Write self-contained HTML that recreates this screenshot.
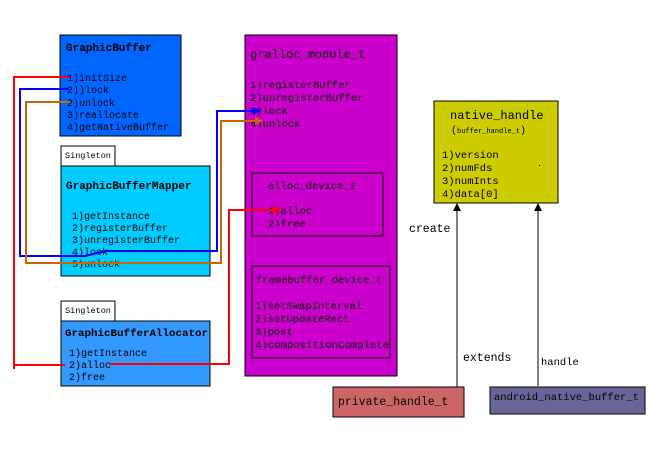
<!DOCTYPE html>
<html><head><meta charset="utf-8"><style>
body{margin:0;background:#fff;}
svg text{font-family:"Liberation Mono",monospace;fill:#000;}
</style></head><body>
<svg width="650" height="450" xmlns="http://www.w3.org/2000/svg">
<defs>
<marker id="ab" markerWidth="8" markerHeight="8" refX="7" refY="4" orient="auto" markerUnits="userSpaceOnUse"><path d="M0,0 L8,4 L0,8z" fill="#000"/></marker>
<marker id="ar" markerWidth="8" markerHeight="8" refX="7" refY="4" orient="auto" markerUnits="userSpaceOnUse"><path d="M0,0 L8,4 L0,8z" fill="#f00"/></marker>
<marker id="abl" markerWidth="8" markerHeight="8" refX="7" refY="4" orient="auto" markerUnits="userSpaceOnUse"><path d="M0,0 L8,4 L0,8z" fill="#00f"/></marker>
<marker id="ao" markerWidth="8" markerHeight="8" refX="7" refY="4" orient="auto" markerUnits="userSpaceOnUse"><path d="M0,0 L8,4 L0,8z" fill="#c60"/></marker>
</defs>
<rect x="60" y="35" width="121" height="101" fill="#0066ff" stroke="#000"/>
<text x="66" y="51" font-size="11" font-weight="bold">GraphicBuffer</text>
<g font-size="10"><text x="67" y="81">1)initSize</text><text x="67" y="93">2))lock</text><text x="67" y="106">2)unlock</text><text x="67" y="118">3)reallocate</text><text x="67" y="130">4)getNativeBuffer</text></g>
<rect x="61" y="146" width="54" height="20" fill="#fff" stroke="#000"/>
<text x="65" y="158" font-size="8.5">Singleton</text>
<rect x="61" y="166" width="149" height="110" fill="#00ccff" stroke="#000"/>
<text x="66" y="189" font-size="11" font-weight="bold">GraphicBufferMapper</text>
<g font-size="10"><text x="72" y="219">1)getInstance</text><text x="72" y="231">2)registerBuffer</text><text x="72" y="243">3)unregisterBuffer</text><text x="72" y="255">4)lock</text><text x="72" y="267">5)unlock</text></g>
<rect x="61" y="301" width="54" height="20" fill="#fff" stroke="#000"/>
<text x="65" y="313" font-size="8.5">Singleton</text>
<rect x="61" y="321" width="149" height="65" fill="#3399ff" stroke="#000"/>
<text x="65" y="336" font-size="10.5" font-weight="bold" textLength="143" lengthAdjust="spacingAndGlyphs">GraphicBufferAllocator</text>
<g font-size="10"><text x="69" y="356">1)getInstance</text><text x="69" y="368">2)alloc</text><text x="69" y="380">2)free</text></g>
<rect x="245" y="35" width="152" height="341" fill="#cc00cc" stroke="#000"/>
<text x="250" y="58" font-size="12">gralloc_module_t</text>
<g font-size="10.5"><text x="250" y="88">1)registerBuffer</text><text x="250" y="101">2)unregisterBuffer</text><text x="250" y="114">3)lock</text><text x="250" y="127">4)unlock</text></g>
<rect x="252" y="173" width="131" height="63" fill="#cc00cc" stroke="#000"/>
<text x="268" y="189" font-size="10.5">alloc_device_t</text>
<g font-size="10.5"><text x="268" y="214">1)alloc</text><text x="268" y="227">2)free</text></g>
<rect x="252" y="266" width="138" height="92" fill="#cc00cc" stroke="#000"/>
<text x="256" y="283" font-size="10.5">framebuffer_device_t</text>
<g font-size="10.5"><text x="255" y="309">1)setSwapInterval</text><text x="255" y="322">2)setUpdateRect</text><text x="255" y="335">3)post</text><text x="255" y="348" textLength="134" lengthAdjust="spacingAndGlyphs">4)compositionComplete</text></g>
<rect x="434" y="101" width="124" height="102" fill="#cccc00" stroke="#000"/>
<text x="450" y="119" font-size="12">native_handle</text>
<text x="451" y="133" font-size="10">(<tspan font-size="7">buffer_handle_t</tspan>)</text>
<g font-size="10.5"><text x="442" y="158">1)version</text><text x="442" y="171">2)numFds</text><text x="442" y="184">3)numInts</text><text x="442" y="197">4)data[0]</text></g>
<rect x="539" y="165" width="1" height="1" fill="#000"/>
<rect x="333" y="387" width="131" height="30" fill="#cc6666" stroke="#000"/>
<text x="338" y="405" font-size="11.5">private_handle_t</text>
<rect x="490" y="387" width="155" height="27" fill="#666699" stroke="#000"/>
<text x="494" y="400" font-size="10.5">android_native_buffer_t</text>
<line x1="457" y1="387" x2="457" y2="204" stroke="#000" marker-end="url(#ab)"/>
<line x1="538" y1="386" x2="538" y2="204" stroke="#000" marker-end="url(#ab)"/>
<text x="409" y="232" font-size="11.5">create</text>
<text x="463" y="361" font-size="11.5">extends</text>
<text x="541" y="365" font-size="10.5">handle</text>
<g fill="none" stroke-width="2">
<polyline points="69,77 14,77 14,369" stroke="#f00"/>
<polyline points="14,365 65,365" stroke="#f00"/>
<polyline points="110,364 229,364 229,210 280,210" stroke="#f00" marker-end="url(#ar)"/>
<polyline points="69,89 20,89 20,256 85,256 105,251 217,251 217,111 260,111" stroke="#00f" marker-end="url(#abl)"/>
<polyline points="70,102 26,102 26,263 221,263 221,121 262,121" stroke="#c60" marker-end="url(#ao)"/>
</g>
</svg>
</body></html>
